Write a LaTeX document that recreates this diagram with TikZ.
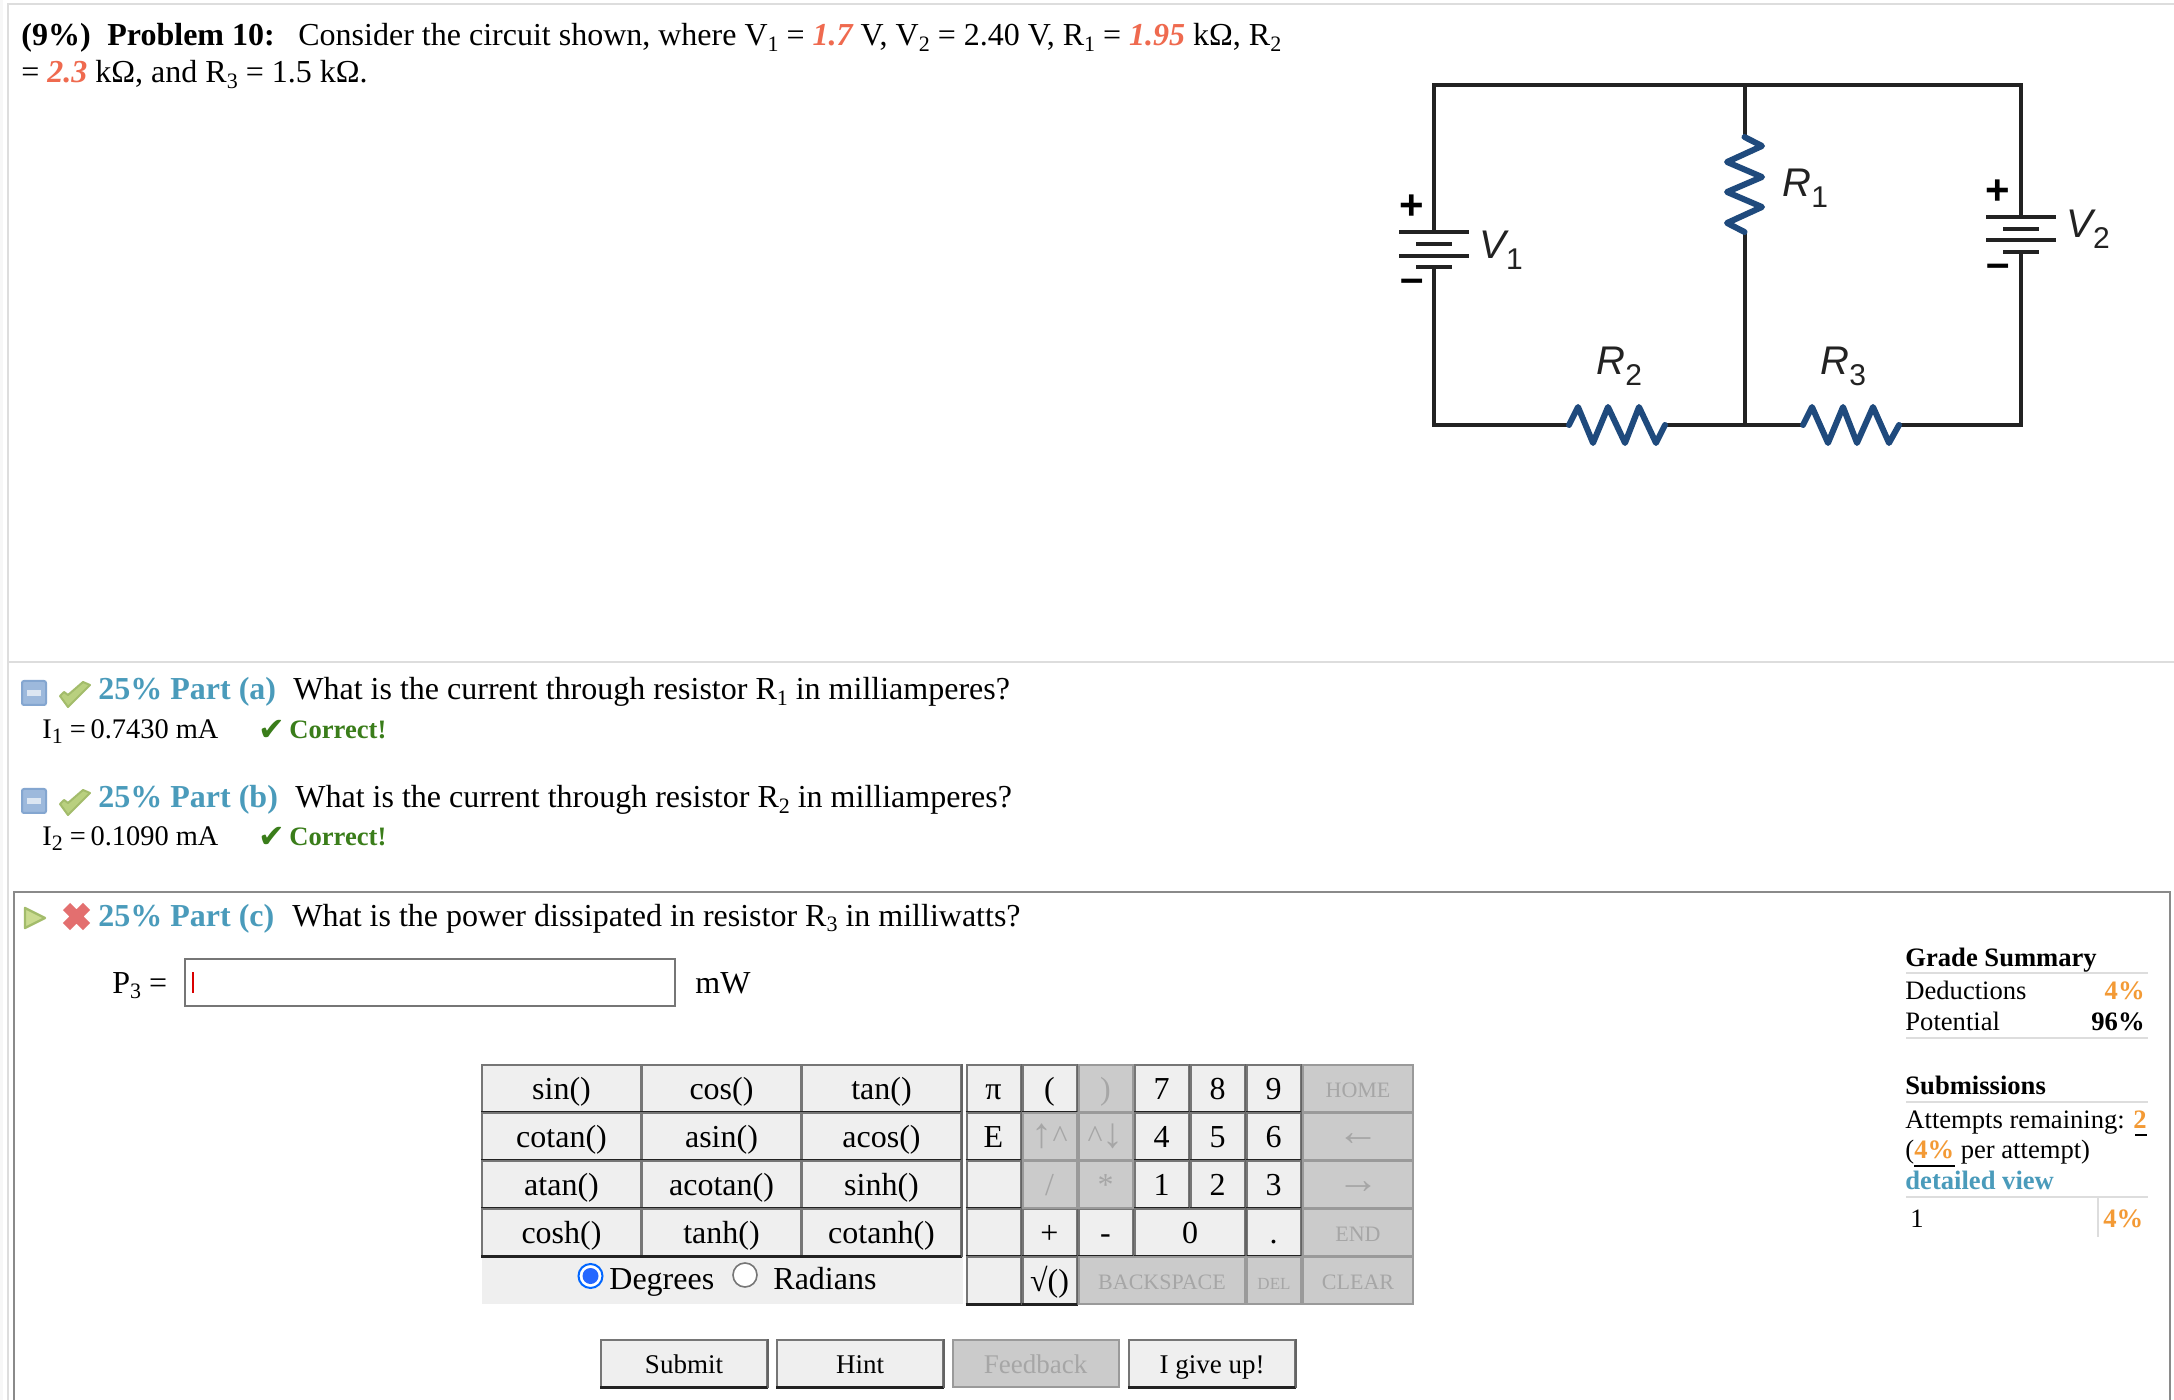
\documentclass[tikz,border=0pt]{standalone}
\usepackage{fontspec}
\setmainfont{Liberation Serif}
\newfontfamily\circuitfont{Liberation Sans}
\newfontfamily\tickfont{DejaVu Sans}
\definecolor{partblue}{HTML}{4A9BBB}
\definecolor{valred}{HTML}{EF6A4F}
\definecolor{gradeorange}{HTML}{F39A35}
\definecolor{tickgreen}{HTML}{3A7D1A}
\definecolor{rulelight}{HTML}{DDDDDD}
\definecolor{boxgray}{HTML}{8A8A8A}
\definecolor{wireblack}{HTML}{222222}
\definecolor{resblue}{HTML}{1F4A7D}
\definecolor{keyface}{HTML}{EFEFEF}
\definecolor{keyline}{HTML}{767676}
\definecolor{keydark}{HTML}{222222}
\definecolor{offface}{HTML}{CBCBCB}
\definecolor{offline}{HTML}{9A9A9A}
\definecolor{offtext}{HTML}{A6A6A6}
\definecolor{iconblue}{HTML}{9DB9DC}
\definecolor{iconblueline}{HTML}{84A6D0}
\definecolor{iconbar}{HTML}{DCE6F2}
\definecolor{iconcheck}{HTML}{B9D07F}
\definecolor{iconcheckline}{HTML}{A3BC6B}
\definecolor{iconcross}{HTML}{E36F6F}
\definecolor{iconplay}{HTML}{CADB90}
\newcommand{\bodysize}{\fontsize{16}{19}\selectfont}
\newcommand{\anssize}{\fontsize{14.2}{17}\selectfont}
\newcommand{\oksize}{\fontsize{13.3}{16}\selectfont}
\newcommand{\sidesize}{\fontsize{13.3}{16}\selectfont}
\newcommand{\subs}[1]{\raisebox{-0.35ex}{\fontsize{11}{13}\selectfont #1}}
\newcommand{\circsub}[1]{\raisebox{-5.5pt}{\upshape\fontsize{15}{15}\selectfont #1}}
\newcommand{\bigarrow}[1]{{\fontsize{21}{21}\selectfont #1}}
\newcommand{\redval}[1]{\textbf{\textit{\textcolor{valred}{#1}}}}
\newcommand{\partlab}[1]{\textbf{\textcolor{partblue}{#1}}}
\newcommand{\orgval}[1]{\textbf{\textcolor{gradeorange}{#1}}}
\tikzset{
  txt/.style={anchor=base west, inner sep=0pt, font=\bodysize},
  anstxt/.style={txt, font=\anssize},
  oktxt/.style={txt, font=\oksize, text=tickgreen},
  sidetxt/.style={anchor=base west, inner sep=0pt, font=\sidesize},
  sideright/.style={anchor=base east, inner sep=0pt, font=\sidesize},
  wire/.style={line width=2pt, color=wireblack},
  resistor/.style={line width=3pt, color=resblue, line join=round, line cap=round},
  sideline/.style={line width=1pt, color=rulelight},
  circlab/.style={inner sep=0pt, anchor=base west, color=wireblack, font=\circuitfont\itshape\fontsize{20}{24}\selectfont},
  signlab/.style={inner sep=0pt, color=black, font=\circuitfont\bfseries\fontsize{21}{21}\selectfont},
  keybase/.style={inner sep=0pt, line width=1pt, font=\bodysize, text height=12pt, text depth=1pt, minimum height=23.5pt},
  keybtn/.style={keybase, draw=keyline, fill=keyface,
    append after command={(\tikzlastnode.south west) edge[line width=1.5pt, keydark] (\tikzlastnode.south east)
      (\tikzlastnode.south east) edge[line width=1pt, keydark!70] (\tikzlastnode.north east)}},
  keyoff/.style={keybase, draw=offline, fill=offface, text=offtext},
  funckey/.style={keybtn, minimum width=79.5pt},
  numkey/.style={keybtn, minimum width=27pt},
  offkey/.style={keyoff, minimum width=27pt},
  sidekey/.style={keyoff, minimum width=55pt, font=\fontsize{11}{13}\selectfont, text height=10.5pt},
  pushbtn/.style={minimum width=83pt, font=\fontsize{13.5}{16}\selectfont, text height=11.5pt},
  minusicon/.pic={
    \draw[line width=1pt, draw=iconblueline, fill=iconblue, rounded corners=1pt] (0,0) rectangle (24,24);
    \fill[iconbar] (5,9) rectangle (19,15);
  },
  checkicon/.pic={
    \draw[line width=1pt, draw=iconcheckline, fill=iconcheck, line join=round]
      (0,14) -- (8,25) -- (30,3) -- (23,0) -- (8,13) -- (4,10) -- cycle;
  },
  playicon/.pic={
    \draw[line width=1.2pt, draw=iconcheckline, fill=iconplay, line join=round] (0,0) -- (20,10) -- (0,20) -- cycle;
  },
  crossicon/.pic={
    \draw[line width=5pt, color=iconcross] (-10,-10) -- (10,10) (-10,10) -- (10,-10);
  },
}
\begin{document}
\begin{tikzpicture}[x=0.5pt, y=-0.5pt]
\useasboundingbox (0,0) rectangle (2174,1400);
\fill[white] (0,0) rectangle (2174,1400);
\fill[black!3] (0,0) rectangle (3,1400);
\draw[line width=1.2pt, rulelight] (8,1400) -- (8,4) -- (2174,4);
\draw[line width=1pt, rulelight] (8,662) -- (2174,662);
\draw[line width=1.2pt, boxgray] (14,1400) -- (14,892) -- (2170,892) -- (2170,1400);

\node[txt] (pct) at (21,46) {\textbf{(9\%)}};
\node[txt] (prob) at (107,46) {\textbf{Problem 10:}};
\node[txt] (stem) at (298,46) {Consider the circuit shown, where V\subs{1} = \redval{1.7} V, V\subs{2} = 2.40 V, R\subs{1} = \redval{1.95} kΩ, R\subs{2}};
\node[txt] (stemb) at (21,83) {= \redval{2.3} kΩ, and R\subs{3} = 1.5 kΩ.};

\coordinate (tl) at (1434,85);
\coordinate (tm) at (1744.5,85);
\coordinate (tr) at (2021,85);
\coordinate (bl) at (1434,425);
\coordinate (bm) at (1744.5,425);
\coordinate (br) at (2021,425);
\coordinate (vatop) at (1434,232);
\coordinate (vabot) at (1434,267);
\coordinate (vbtop) at (2021,217);
\coordinate (vbbot) at (2021,252);
\coordinate (raa) at (1744.5,137);
\coordinate (rab) at (1744.5,232);
\coordinate (rba) at (1569,425);
\coordinate (rbb) at (1665,425);
\coordinate (rca) at (1803,425);
\coordinate (rcb) at (1899,425);
\draw[wire] (vatop) -- (tl) -- (tr) -- (vbtop);
\draw[wire] (vabot) -- (bl) -- (rba);
\draw[wire] (rbb) -- (bm) -- (rca);
\draw[wire] (rcb) -- (br) -- (vbbot);
\draw[wire] (tm) -- (raa);
\draw[wire] (rab) -- (bm);
\draw[resistor] (raa) -- (1762,146) -- (1727,162) -- (1762,177) -- (1727,192) -- (1762,207) -- (1727,223) -- (rab);
\draw[resistor] (rba) -- (1578,407) -- (1593,443) -- (1608,407) -- (1625,443) -- (1639,407) -- (1656,443) -- (rbb);
\draw[resistor] (rca) -- (1812,407) -- (1828,443) -- (1843,407) -- (1857,443) -- (1873,407) -- (1889,443) -- (rcb);
\foreach \py/\hw in {232/35,244/18,256/35,267/18}
  \draw[wire] (1434-\hw,\py) -- (1434+\hw,\py);
\foreach \py/\hw in {217/35,229/18,240/35,252/18}
  \draw[wire] (2021-\hw,\py) -- (2021+\hw,\py);
\node[signlab] (vaplus) at (1412,207) {+};
\node[signlab] (vaminus) at (1412,286) {–};
\node[signlab] (vbplus) at (1998,192) {+};
\node[signlab] (vbminus) at (1998,271) {–};
\node[circlab] (vlaba) at (1479,259) {V\circsub{1}};
\node[circlab] (vlabb) at (2066,238) {V\circsub{2}};
\node[circlab] (rlaba) at (1782,197) {R\circsub{1}};
\node[circlab] (rlabb) at (1596,375) {R\circsub{2}};
\node[circlab] (rlabc) at (1820,375) {R\circsub{3}};

\pic at (22,681) {minusicon};
\pic at (60,682) {checkicon};
\node[txt] (parta) at (98,700) {\partlab{25\% Part (a)}};
\node[txt] (qa) at (293,700) {What is the current through resistor R\subs{1} in milliamperes?};
\node[anstxt] (ansa) at (42,739) {I\subs{1} =\,0.7430 mA};
\node[oktxt, font=\fontsize{16}{16}\selectfont] (tica) at (258,741) {\tickfont ✔};
\node[oktxt] (oka) at (289,739) {\textbf{Correct!}};

\pic at (22,789) {minusicon};
\pic at (60,790) {checkicon};
\node[txt] (partb) at (98,808) {\partlab{25\% Part (b)}};
\node[txt] (qb) at (295,808) {What is the current through resistor R\subs{2} in milliamperes?};
\node[anstxt] (ansb) at (42,846) {I\subs{2} =\,0.1090 mA};
\node[oktxt, font=\fontsize{16}{16}\selectfont] (ticb) at (258,848) {\tickfont ✔};
\node[oktxt] (okb) at (289,846) {\textbf{Correct!}};

\pic at (25,908) {playicon};
\pic at (76.5,916.5) {crossicon};
\node[txt] (partc) at (98,926) {\partlab{25\% Part (c)}};
\node[txt] (qc) at (292,926) {What is the power dissipated in resistor R\subs{3} in milliwatts?};
\node[txt] (plab) at (112,993) {P\subs{3} =};
\node[draw=keyline, line width=1pt, inner sep=0pt, minimum width=245pt, minimum height=23.5pt] (pinput) at (430,982.5) {};
\draw[line width=0.8pt, red!85!black] (193,972) -- (193,993);
\node[txt] (punit) at (695,993) {mW};

\fill[keyface] (482,1256) rectangle (963,1304);
\foreach \lab/\col/\row in {sin()/0/0,cos()/1/0,tan()/2/0,cotan()/0/1,asin()/1/1,acos()/2/1,
    atan()/0/2,acotan()/1/2,sinh()/2/2,cosh()/0/3,tanh()/1/3,cotanh()/2/3}
  \node[funckey] (fn\col\row) at ({561.5+160*\col},{1088+48*\row}) {\lab};
\foreach \lab/\col/\row in {π/0/0,{(}/1/0,7/3/0,8/4/0,9/5/0,E/0/1,4/3/1,5/4/1,6/5/1,{}/0/2,1/3/2,2/4/2,3/5/2,
    {}/0/3,+/1/3,-/2/3,./5/3,{}/0/4,√()/1/4}
  \node[numkey] (num\col\row) at ({993.5+56*\col},{1088+48*\row}) {\lab};
\node[keybtn, minimum width=55pt] (zero) at (1190,1232) {0};
\foreach \lab/\col/\row in {{)}/2/0,\bigarrow{↑}\textasciicircum/1/1,\textasciicircum\bigarrow{↓}/2/1,{/}/1/2,*/2/2}
  \node[offkey] (off\col\row) at ({993.5+56*\col},{1088+48*\row}) {\lab};
\foreach \lab/\row in {HOME/0,\bigarrow{←}/1,\bigarrow{→}/2,END/3,CLEAR/4}
  \node[sidekey] (side\row) at (1358,{1088+48*\row}) {\lab};
\node[keyoff, minimum width=83pt, font=\fontsize{11}{13}\selectfont, text height=10.5pt] (backsp) at (1162,1280) {BACKSPACE};
\node[offkey, font=\fontsize{8.5}{10}\selectfont, text height=10.5pt] (delkey) at (1274,1280) {DEL};

\draw[line width=1pt, blue!60!cyan, fill=white] (590.5,1276) circle [radius=12];
\fill[blue!70!cyan!85] (590.5,1276) circle [radius=8];
\node[txt] (deg) at (609,1289) {Degrees};
\draw[line width=0.8pt, keyline, fill=white] (745,1275) circle [radius=12];
\node[txt] (rad) at (773,1289) {Radians};

\node[keybtn, pushbtn] (submit) at (684,1363) {Submit};
\node[keybtn, pushbtn] (hint) at (860,1363) {Hint};
\node[keyoff, pushbtn] (feedback) at (1035.5,1363) {Feedback};
\node[keybtn, pushbtn] (giveup) at (1212,1363) {I give up!};

\node[sidetxt] (grade) at (1905,966) {\textbf{Grade Summary}};
\draw[sideline] (1906,973) -- (2148,973);
\node[sidetxt] (deduct) at (1905,999) {Deductions};
\node[sideright] (deductv) at (2145,999) {\orgval{4\%}};
\node[sidetxt] (potent) at (1905,1030) {Potential};
\node[sideright] (potentv) at (2145,1030) {\textbf{96\%}};
\draw[sideline] (1906,1038) -- (2148,1038);
\node[sidetxt] (subm) at (1905,1094) {\textbf{Submissions}};
\draw[sideline] (1906,1102) -- (2148,1102);
\node[sidetxt] (attempts) at (1905,1128) {Attempts remaining:};
\node[sideright] (attv) at (2147,1128) {\orgval{2}};
\draw[line width=1pt, black] (2135,1135) -- (2147,1135);
\node[sidetxt] (perat) at (1905,1158) {(\orgval{4\%} per attempt)};
\draw[line width=1pt, black] (1914,1166) -- (1955,1166);
\node[sidetxt] (detail) at (1905,1189) {\textbf{\textcolor{partblue}{detailed view}}};
\draw[sideline] (1906,1197) -- (2148,1197);
\node[sidetxt] (subno) at (1910,1227) {1};
\draw[sideline] (2098,1197) -- (2098,1237);
\node[sidetxt] (subpct) at (2103,1227) {\orgval{4\%}};
\end{tikzpicture}
\end{document}
